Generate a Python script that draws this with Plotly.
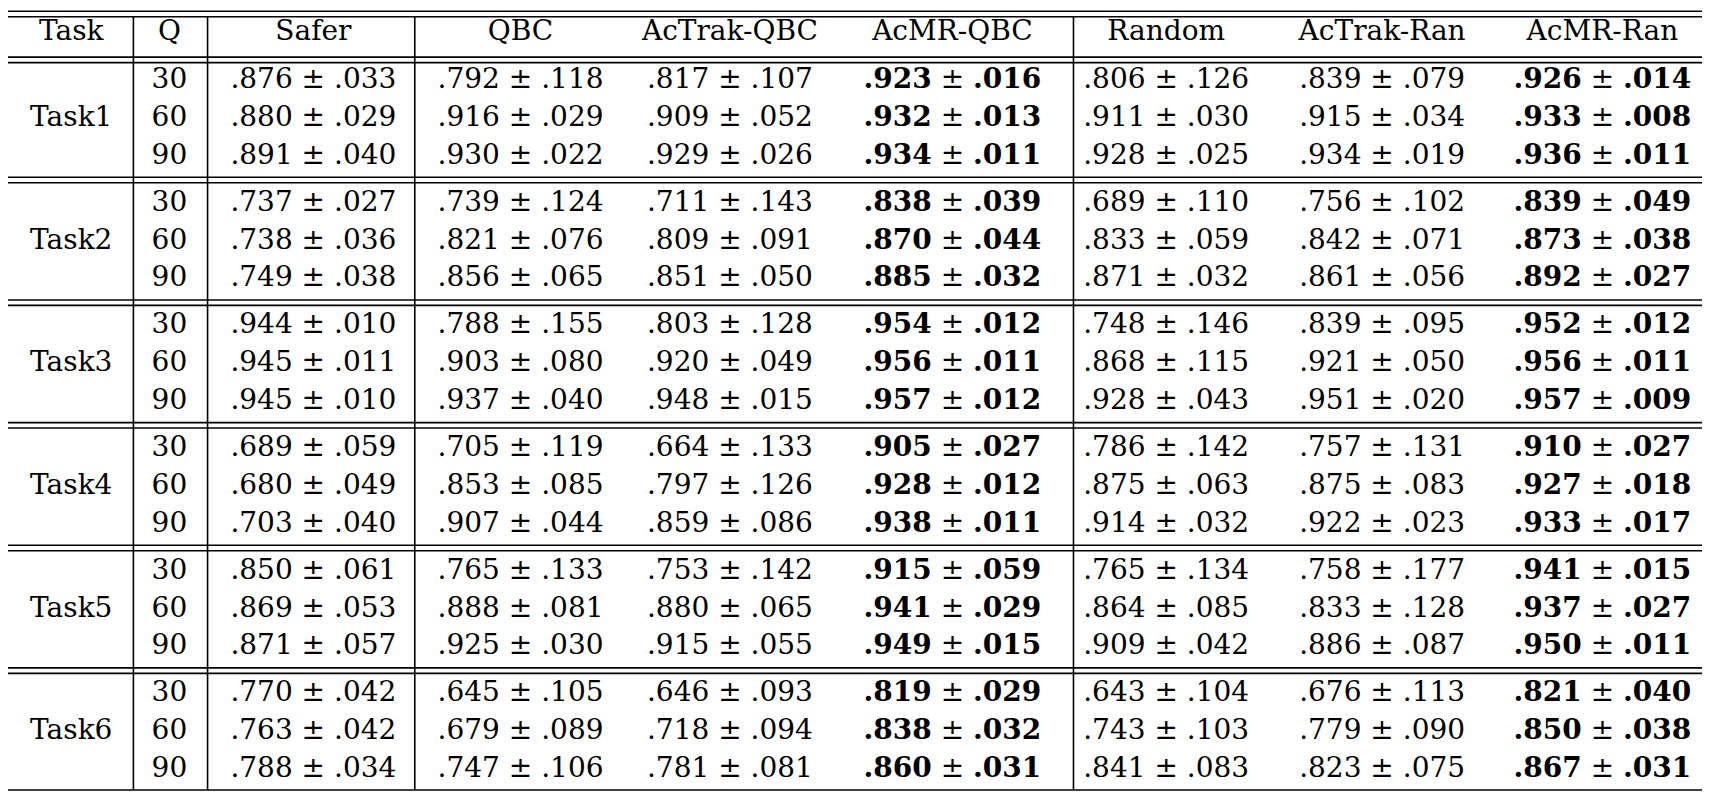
import plotly.graph_objects as go

tasks = ["Task1", "Task2", "Task3", "Task4", "Task5", "Task6"]
queries = [30, 60, 90]
columns = ["Safer", "QBC", "AcTrak-QBC", "AcMR-QBC", "Random", "AcTrak-Ran", "AcMR-Ran"]
bold_cols = ["AcMR-QBC", "AcMR-Ran"]

mean = {
    "Safer": [.876, .880, .891, .737, .738, .749, .944, .945, .945, .689, .680, .703, .850, .869, .871, .770, .763, .788],
    "QBC": [.792, .916, .930, .739, .821, .856, .788, .903, .937, .705, .853, .907, .765, .888, .925, .645, .679, .747],
    "AcTrak-QBC": [.817, .909, .929, .711, .809, .851, .803, .920, .948, .664, .797, .859, .753, .880, .915, .646, .718, .781],
    "AcMR-QBC": [.923, .932, .934, .838, .870, .885, .954, .956, .957, .905, .928, .938, .915, .941, .949, .819, .838, .860],
    "Random": [.806, .911, .928, .689, .833, .871, .748, .868, .928, .786, .875, .914, .765, .864, .909, .643, .743, .841],
    "AcTrak-Ran": [.839, .915, .934, .756, .842, .861, .839, .921, .951, .757, .875, .922, .758, .833, .886, .676, .779, .823],
    "AcMR-Ran": [.926, .933, .936, .839, .873, .892, .952, .956, .957, .910, .927, .933, .941, .937, .950, .821, .850, .867],
}
std = {
    "Safer": [.033, .029, .040, .027, .036, .038, .010, .011, .010, .059, .049, .040, .061, .053, .057, .042, .042, .034],
    "QBC": [.118, .029, .022, .124, .076, .065, .155, .080, .040, .119, .085, .044, .133, .081, .030, .105, .089, .106],
    "AcTrak-QBC": [.107, .052, .026, .143, .091, .050, .128, .049, .015, .133, .126, .086, .142, .065, .055, .093, .094, .081],
    "AcMR-QBC": [.016, .013, .011, .039, .044, .032, .012, .011, .012, .027, .012, .011, .059, .029, .015, .029, .032, .031],
    "Random": [.126, .030, .025, .110, .059, .032, .146, .115, .043, .142, .063, .032, .134, .085, .042, .104, .103, .083],
    "AcTrak-Ran": [.079, .034, .019, .102, .071, .056, .095, .050, .020, .131, .083, .023, .177, .128, .087, .113, .090, .075],
    "AcMR-Ran": [.014, .008, .011, .049, .038, .027, .012, .011, .009, .027, .018, .017, .015, .027, .011, .040, .038, .031],
}

W, H = 1568.0, 727.0
col_x = {"Task": 58, "Q": 148, "Safer": 280, "QBC": 470, "AcTrak-QBC": 662, "AcMR-QBC": 866,
         "Random": 1062, "AcTrak-Ran": 1260, "AcMR-Ran": 1462}
header_y = 23
row0 = 67; row_step = 34.6; block_step = 112.3
vlines = [115, 183, 373, 977]

def fmt(v):
    return ("%.3f" % v)[1:]

FONT = dict(family="DejaVu Serif, Liberation Serif, serif", size=28, color="black")

fig = go.Figure()
hdr = ["Task", "Q"] + columns
fig.add_trace(go.Scatter(x=[col_x[h] for h in hdr], y=[header_y] * len(hdr), mode="text",
                         text=hdr, textfont=FONT, hoverinfo="skip", showlegend=False))
ys = [row0 + b * block_step + r * row_step for b in range(6) for r in range(3)]
fig.add_trace(go.Scatter(x=[col_x["Task"]] * 6, y=[row0 + b * block_step + row_step for b in range(6)],
                         mode="text", text=tasks, textfont=FONT, hoverinfo="skip", showlegend=False))
fig.add_trace(go.Scatter(x=[col_x["Q"]] * 18, y=ys, mode="text", text=[str(q) for q in queries] * 6,
                         textfont=FONT, hoverinfo="skip", showlegend=False))
for c in columns:
    if c in bold_cols:
        txt = ["<b>%s</b> ± <b>%s</b>" % (fmt(m), fmt(s)) for m, s in zip(mean[c], std[c])]
    else:
        txt = ["%s ± %s" % (fmt(m), fmt(s)) for m, s in zip(mean[c], std[c])]
    fig.add_trace(go.Scatter(x=[col_x[c]] * 18, y=ys, mode="text", text=txt, textfont=FONT,
                             hoverinfo="skip", showlegend=False))

line = dict(color="black", width=1.6)
hlines = [(3, 8), (45, 50)] + [(155 + b * block_step, 160 + b * block_step) for b in range(5)] + [(716, 721)]
for a, b in hlines:
    for y in (a, b):
        fig.add_shape(type="line", x0=0, x1=W, y0=y, y1=y, line=line)
for x in vlines:
    fig.add_shape(type="line", x0=x, x1=x, y0=8, y1=716, line=line)

fig.update_xaxes(range=[0, W], visible=False)
fig.update_yaxes(range=[H, 0], visible=False)
fig.update_layout(width=1710, height=794, margin=dict(l=0, r=0, t=0, b=0),
                  plot_bgcolor="white", paper_bgcolor="white")
fig.write_html("out.html")
